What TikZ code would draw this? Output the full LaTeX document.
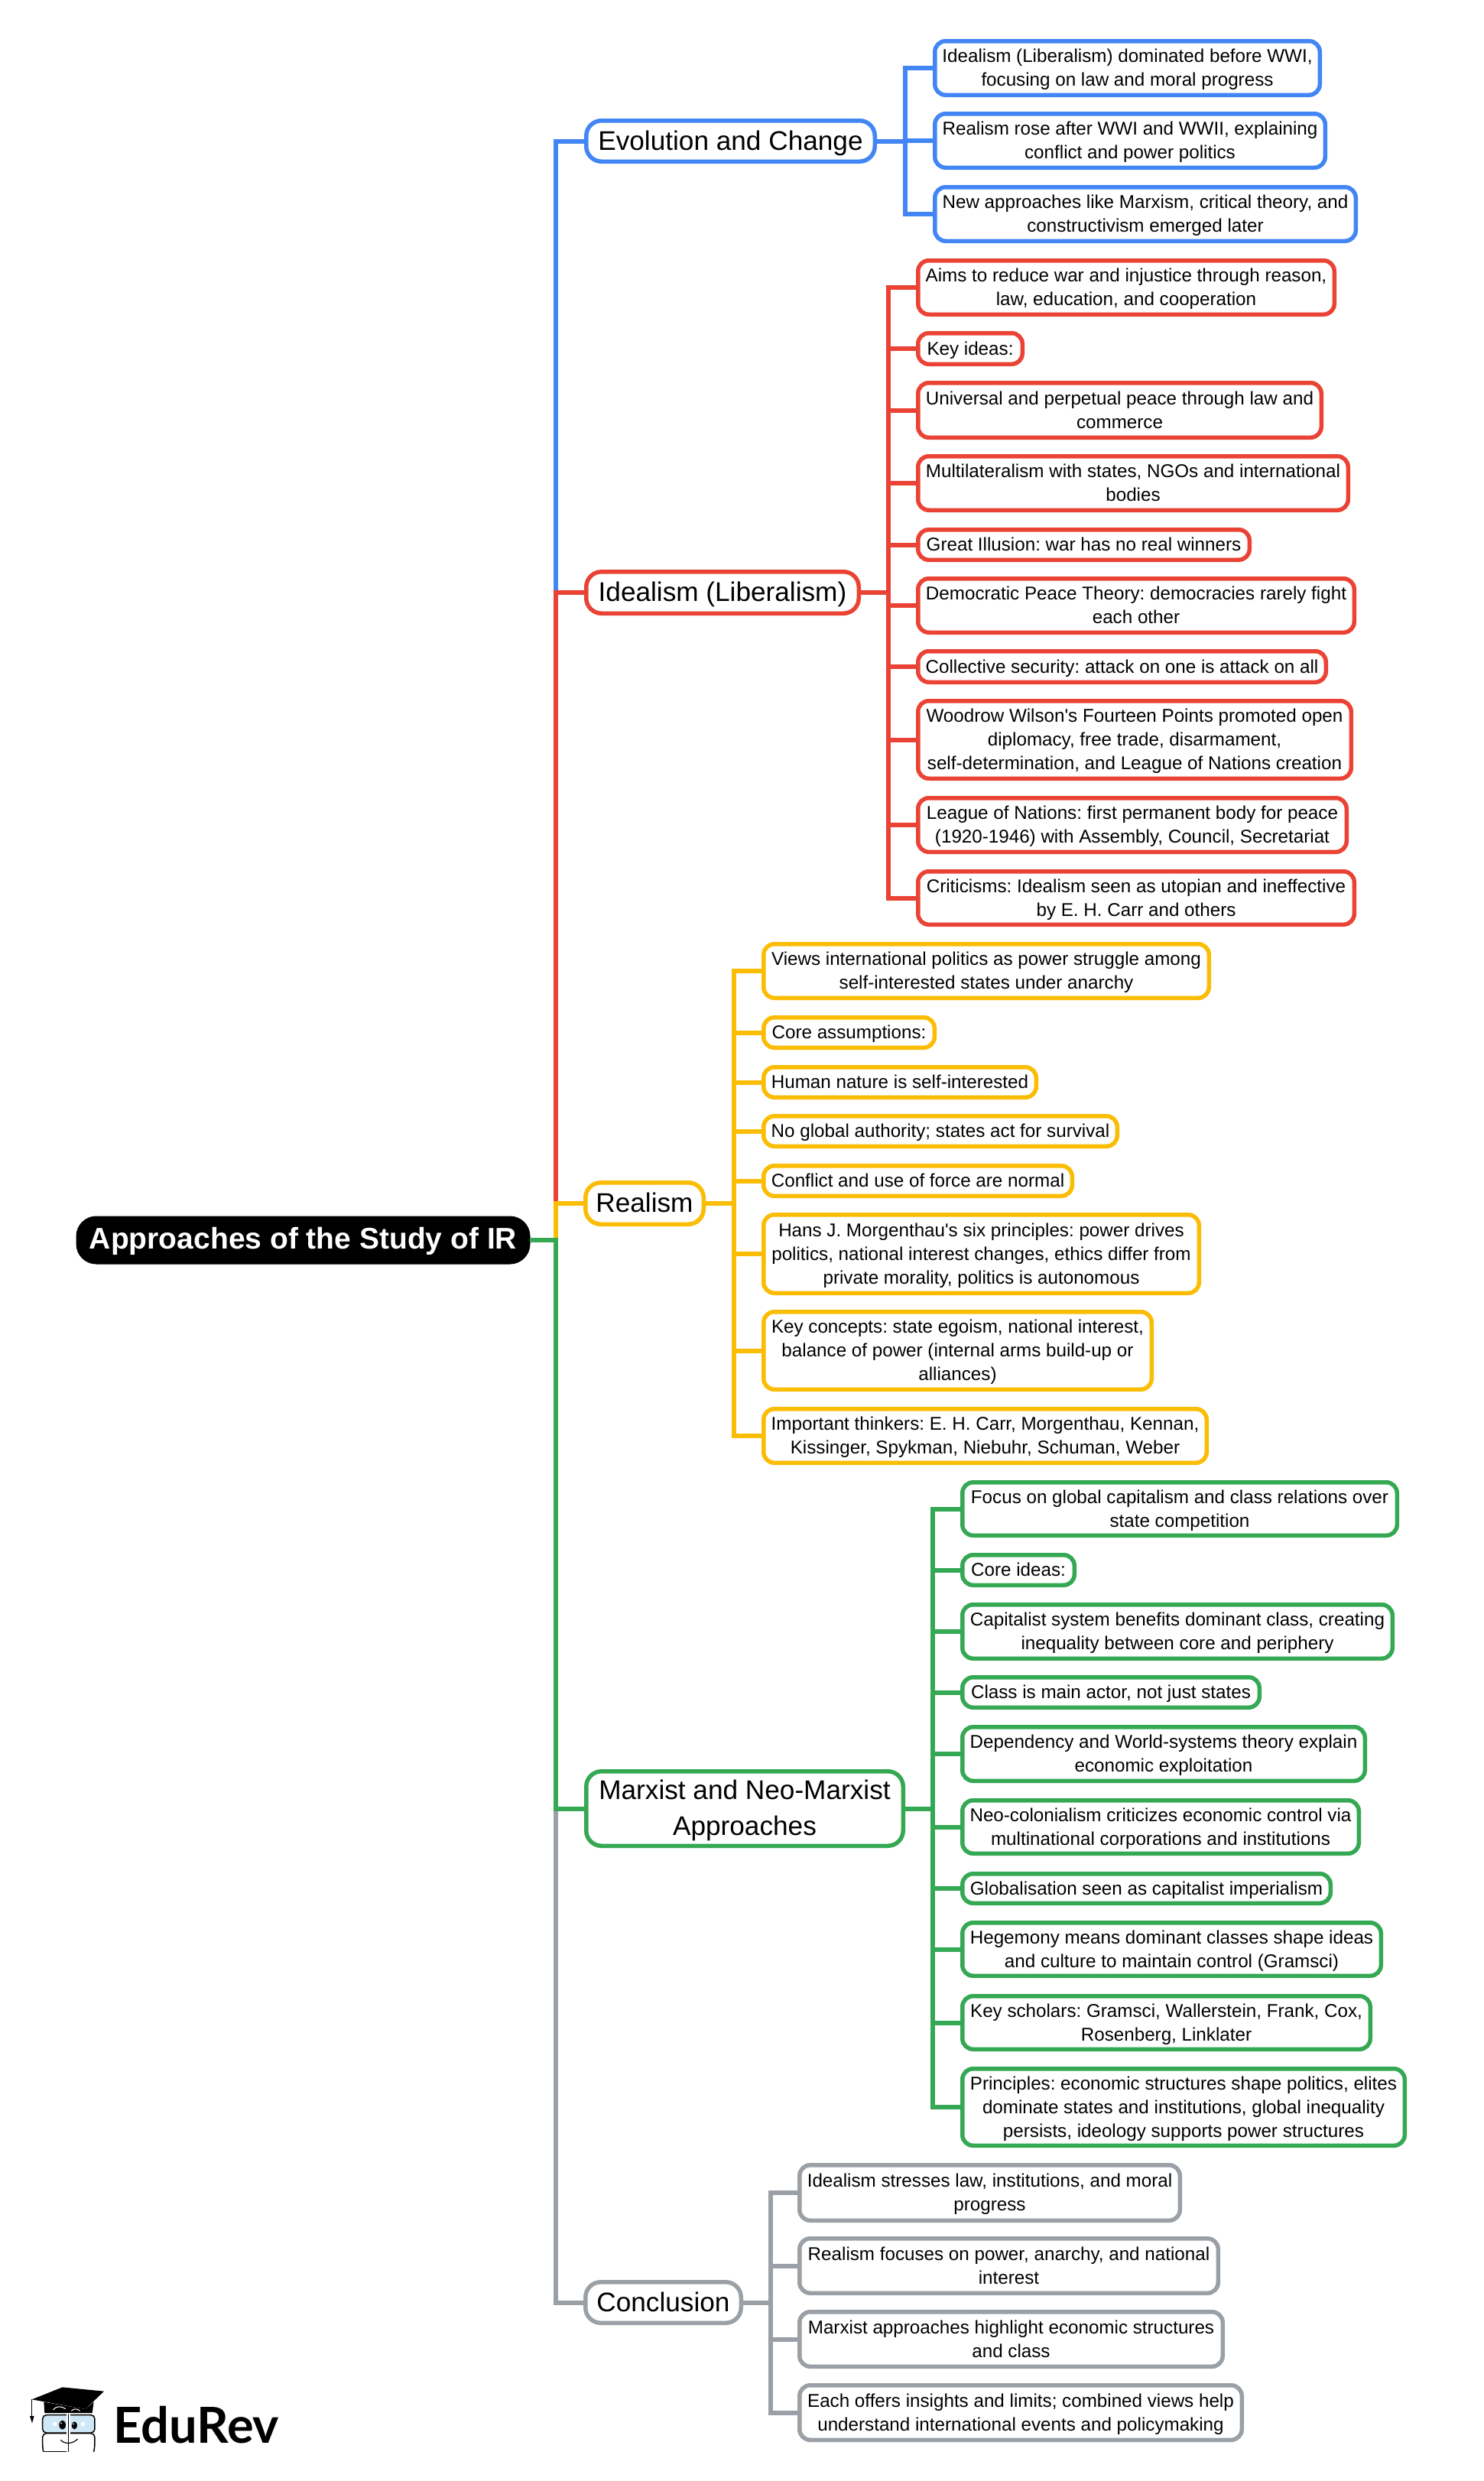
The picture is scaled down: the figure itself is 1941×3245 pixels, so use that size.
\documentclass[tikz,border=0pt]{standalone}
\usepackage{fontspec}
\setmainfont[Ligatures={TeXOff,NoCommon}]{Liberation Sans}
\newfontfamily\logofont{Lato}
\frenchspacing
\definecolor{cblue}{HTML}{4285F4}
\definecolor{cred}{HTML}{EA4335}
\definecolor{cyel}{HTML}{FBBC04}
\definecolor{cgrn}{HTML}{34A853}
\definecolor{cgry}{HTML}{9AA0A6}
\newcommand{\kidstrut}{\vrule height 22pt depth 6pt width 0pt\relax}
\newcommand{\titlestrut}{\vrule height 31pt depth 8pt width 0pt\relax}
\newcommand{\rootstrut}{\vrule height 32pt depth 8pt width 0pt\relax}
\tikzset{
  boxbase/.style={draw,fill=white,line width=5.5pt,inner sep=0pt,outer sep=0pt,align=center,text=black},
  kidbox/.style={boxbase,rounded corners=14pt,font=\fontsize{24.2}{31}\selectfont},
  titlebox/.style={boxbase,rounded corners=20pt,font=\fontsize{35.2}{47}\selectfont},
  rootbox/.style={draw=black,fill=black,text=white,inner sep=0pt,outer sep=0pt,align=center,rounded corners=26pt,line width=1pt,font=\fontsize{39}{47}\selectfont\bfseries},
  wire/.style={line width=6pt,line join=miter},
}
% #1 name, #2 style, #3 colour, #4 x1, #5 x2, #6 y1, #7 y2, #8 strut, #9 text
\newcommand{\putbox}[9]{\node[#2,draw=#3,minimum width={#5-#4-5.5},minimum height={#7-#6-5.5}] (#1) at ({(#4+#5)/2},{(#6+#7)/2}) {#8#9#8};}
\newcommand{\putkid}[7]{\putbox{#1}{kidbox}{#2}{#3}{#4}{#5}{#6}{\kidstrut}{#7}}
% #1 colour, #2 title node, #3 trunk x, #4 first kid, #5 last kid, #6 list of kids
\newcommand{\kidwires}[6]{%
  \coordinate (tr#2) at (#3,0);
  \draw[wire,#1] (#2.east) -- (tr#2 |- #2.east);
  \draw[wire,#1] (#4.west) -- (tr#2 |- #4.west) -- (tr#2 |- #5.west) -- (#5.west);
  \foreach \k in {#6} {\draw[wire,#1] (tr#2 |- \k.west) -- (\k.west);}
}
\begin{document}
\begin{tikzpicture}[x=1pt,y=-1pt]
\useasboundingbox (0,0) rectangle (1941,3245);
\fill[white] (0,0) rectangle (1941,3245);

\node[rootbox,minimum width=593,minimum height=62] (root) at (396.5,1622) {\rootstrut Approaches of the Study of IR\rootstrut};

\putbox{evo}{titlebox}{cblue}{764}{1147}{155}{214}{\titlestrut}{Evolution and Change}
\putbox{ide}{titlebox}{cred}{764}{1126}{745}{805}{\titlestrut}{Idealism (Liberalism)}
\putbox{rea}{titlebox}{cyel}{763}{923}{1544}{1604}{\titlestrut}{Realism}
\putbox{mar}{titlebox}{cgrn}{764}{1184}{2314}{2417}{\titlestrut}{Marxist and Neo-Marxist\\Approaches}
\putbox{con}{titlebox}{cgry}{763}{972}{2982}{3041}{\titlestrut}{Conclusion}

% Evolution
\putkid{e1}{cblue}{1220}{1729}{51}{127}{Idealism (Liberalism) dominated before WWI,\\focusing on law and moral progress}
\putkid{e2}{cblue}{1220}{1736}{146}{222}{Realism rose after WWI and WWII, explaining\\conflict and power politics}
\putkid{e3}{cblue}{1220}{1776}{242}{318}{New approaches like Marxism, critical theory, and\\constructivism emerged later}

% Idealism
\putkid{i1}{cred}{1198}{1748}{338}{414}{Aims to reduce war and injustice through reason,\\law, education, and cooperation}
\putkid{i2}{cred}{1198}{1340}{433}{479}{Key ideas:}
\putkid{i3}{cred}{1198}{1731}{498}{575}{Universal and perpetual peace through law and\\commerce}
\putkid{i4}{cred}{1198}{1766}{594}{670}{Multilateralism with states, NGOs and international\\bodies}
\putkid{i5}{cred}{1198}{1637}{690}{735}{Great Illusion: war has no real winners}
\putkid{i6}{cred}{1198}{1774}{754}{830}{Democratic Peace Theory: democracies rarely fight\\each other}
\putkid{i7}{cred}{1198}{1737}{849}{895}{Collective security: attack on one is attack on all}
\putkid{i8}{cred}{1198}{1770}{914}{1021}{Woodrow Wilson's Fourteen Points promoted open\\diplomacy, free trade, disarmament,\\self-determination, and League of Nations creation}
\putkid{i9}{cred}{1198}{1764}{1041}{1117}{League of Nations: first permanent body for peace\\(1920-1946) with Assembly, Council, Secretariat}
\putkid{i10}{cred}{1198}{1774}{1137}{1212}{Criticisms: Idealism seen as utopian and ineffective\\by E. H. Carr and others}

% Realism
\putkid{r1}{cyel}{996}{1584}{1232}{1308}{Views international politics as power struggle among\\self-interested states under anarchy}
\putkid{r2}{cyel}{996}{1225}{1328}{1373}{Core assumptions:}
\putkid{r3}{cyel}{996}{1358}{1393}{1438}{Human nature is self-interested}
\putkid{r4}{cyel}{996}{1464}{1457}{1502}{No global authority; states act for survival}
\putkid{r5}{cyel}{996}{1405}{1522}{1567}{Conflict and use of force are normal}
\putkid{r6}{cyel}{996}{1571}{1586}{1694}{Hans J. Morgenthau's six principles: power drives\\politics, national interest changes, ethics differ from\\private morality, politics is autonomous}
\putkid{r7}{cyel}{996}{1509}{1713}{1820}{Key concepts: state egoism, national interest,\\balance of power (internal arms build-up or\\alliances)}
\putkid{r8}{cyel}{996}{1581}{1840}{1916}{Important thinkers: E. H. Carr, Morgenthau, Kennan,\\Kissinger, Spykman, Niebuhr, Schuman, Weber}

% Marxist
\putkid{m1}{cgrn}{1256}{1830}{1936}{2011}{Focus on global capitalism and class relations over\\state competition}
\putkid{m2}{cgrn}{1256}{1408}{2031}{2076}{Core ideas:}
\putkid{m3}{cgrn}{1256}{1824}{2096}{2172}{Capitalist system benefits dominant class, creating\\inequality between core and periphery}
\putkid{m4}{cgrn}{1256}{1650}{2191}{2236}{Class is main actor, not just states}
\putkid{m5}{cgrn}{1256}{1788}{2256}{2332}{Dependency and World-systems theory explain\\economic exploitation}
\putkid{m6}{cgrn}{1256}{1780}{2352}{2427}{Neo-colonialism criticizes economic control via\\multinational corporations and institutions}
\putkid{m7}{cgrn}{1256}{1743}{2448}{2492}{Globalisation seen as capitalist imperialism}
\putkid{m8}{cgrn}{1256}{1809}{2512}{2587}{Hegemony means dominant classes shape ideas\\and culture to maintain control (Gramsci)}
\putkid{m9}{cgrn}{1256}{1795}{2608}{2683}{Key scholars: Gramsci, Wallerstein, Frank, Cox,\\Rosenberg, Linklater}
\putkid{m10}{cgrn}{1256}{1840}{2703}{2809}{Principles: economic structures shape politics, elites\\dominate states and institutions, global inequality\\persists, ideology supports power structures}

% Conclusion
\putkid{c1}{cgry}{1043}{1546}{2829}{2907}{Idealism stresses law, institutions, and moral\\progress}
\putkid{c2}{cgry}{1043}{1596}{2925}{3002}{Realism focuses on power, anarchy, and national\\interest}
\putkid{c3}{cgry}{1043}{1602}{3021}{3098}{Marxist approaches highlight economic structures\\and class}
\putkid{c4}{cgry}{1043}{1627}{3117}{3194}{Each offers insights and limits; combined views help\\understand international events and policymaking}

% Main trunk
\coordinate (main) at (727,0);
\draw[wire,cblue] (evo.west) -- (main |- evo.west) -- (main |- ide.west);
\draw[wire,cred] (ide.west) -- (main |- ide.west) -- (main |- rea.west);
\draw[wire,cyel] (rea.west) -- (main |- rea.west) -- (main |- root.east);
\draw[wire,cgry] (con.west) -- (main |- con.west) -- (main |- mar.west);
\draw[wire,cgrn] (root.east) -- (main |- root.east) -- (main |- mar.west) -- (mar.west);

% Branches
\kidwires{cblue}{evo}{1184}{e1}{e3}{e2}
\kidwires{cred}{ide}{1162}{i1}{i10}{i2,i3,i4,i5,i6,i7,i8,i9}
\kidwires{cyel}{rea}{960}{r1}{r8}{r2,r3,r4,r5,r6,r7}
\kidwires{cgrn}{mar}{1220}{m1}{m10}{m2,m3,m4,m5,m6,m7,m8,m9}
\kidwires{cgry}{con}{1008}{c1}{c4}{c2,c3}

% EduRev logo
\begin{scope}[shift={(0,3000)},x=.3333pt,y=-.3333pt]
  \fill[black] (125,415) -- (245,367) -- (408,383) -- (335,453) -- cycle;
  \fill[black] (172,425) -- (335,453) -- (368,425) -- (362,468) -- (175,468) -- cycle;
  \draw[black,line width=1.2pt] (125,415) -- (125,480);
  \fill[black] (117,480) -- (134,480) -- (126,508) -- cycle;
  \draw[white,line width=1pt] (208,456) .. controls (220,440) and (240,440) .. (258,452);
  \draw[white,line width=1pt] (280,460) .. controls (290,450) and (302,450) .. (314,460);
  \draw[black,line width=1.5pt,fill={rgb,255:red,207;green,232;blue,248},rounded corners=5pt] (167,476) rectangle (372,546);
  \draw[black,line width=1.5pt,rounded corners=5pt] (170,620) -- (167,600) -- (167,548) -- (372,548) -- (372,600) -- (368,620);
  \draw[black,line width=1.5pt] (170,619) -- (262,619);
  \fill[white] (262,468) rectangle (276,622);
  \draw[black,line width=1.5pt] (268,470) -- (268,622);
  \fill[black] (245,515) ellipse (13 and 18);
  \fill[black] (292,517) ellipse (11 and 15);
  \fill[white] (240,508) circle (3);
  \fill[white] (288,511) circle (3);
  \fill[white] (206,503) rectangle (222,519);
  \fill[white] (318,503) rectangle (334,519);
  \draw[black,line width=1.2pt] (238,574) .. controls (255,592) and (285,590) .. (305,570);
\end{scope}
\node[anchor=base west,inner sep=0pt,font=\logofont\bfseries\fontsize{65}{65}\selectfont] (logo) at (148,3195) {EduRev};
\end{tikzpicture}
\end{document}
